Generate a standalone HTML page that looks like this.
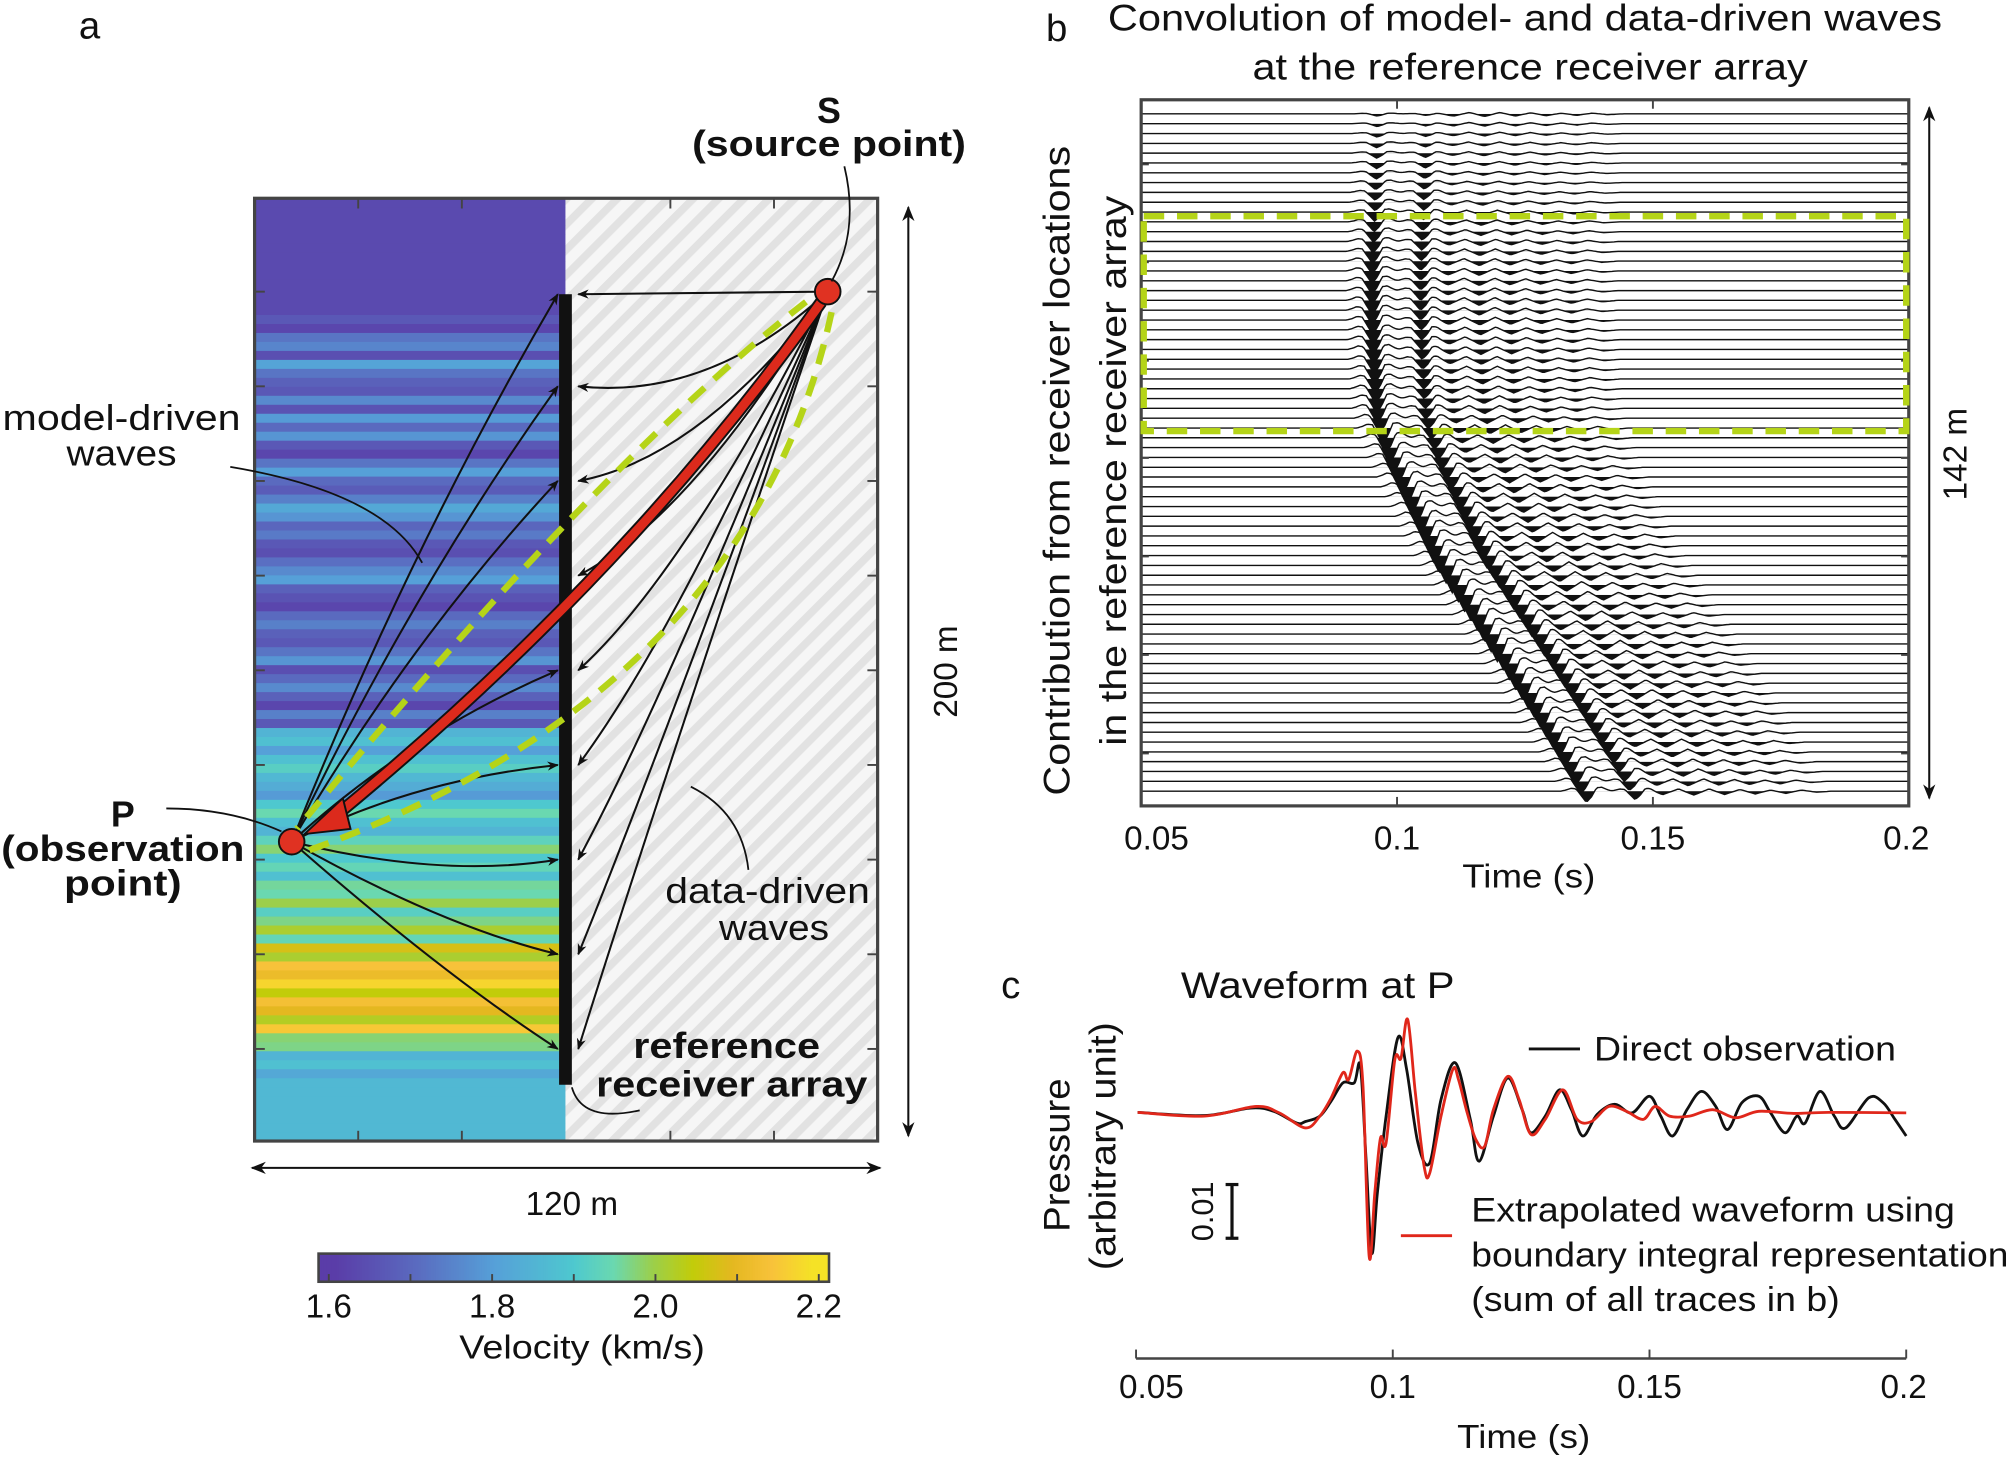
<!DOCTYPE html>
<html><head><meta charset="utf-8"><style>
html,body{margin:0;padding:0;background:#fff;}
svg{display:block;font-family:"Liberation Sans",Arial,sans-serif;}
</style></head><body>
<svg id="fig" width="2006" height="1457" viewBox="0 0 1568 1139" preserveAspectRatio="none" xmlns="http://www.w3.org/2000/svg">
<defs>
<pattern id="hatch" patternUnits="userSpaceOnUse" width="14" height="14" patternTransform="rotate(45)">
<rect width="14" height="14" fill="#f6f6f6"/><rect width="6" height="14" fill="#e2e2e2"/>
</pattern>
<marker id="ah" viewBox="0 0 10 10" refX="9" refY="5" markerWidth="9" markerHeight="9" orient="auto-start-reverse" markerUnits="userSpaceOnUse">
<path d="M0,1 L10,5 L0,9 L3,5 Z" fill="#111"/></marker>
<marker id="ah2" viewBox="0 0 10 10" refX="9" refY="5" markerWidth="12" markerHeight="12" orient="auto-start-reverse" markerUnits="userSpaceOnUse">
<path d="M0,1 L10,5 L0,9 L3,5 Z" fill="#111"/></marker>
</defs>
<g id="panelA"></g>
<g id="panelB"></g>
<g id="panelC"></g>
</svg>
<script>
// ---------- DATA ----------
const layerVelocities = [1.63,1.63,1.63,1.63,1.63,1.63,1.63,1.63,1.63,1.63,1.63,1.63,1.63,
 1.66,1.62,1.72,1.75,1.64,1.81,1.72,1.68,1.66,1.76,1.65,1.79,1.70,1.78,1.66,1.62,1.72,1.80,1.70,1.67,1.74,1.82,1.78,1.69,1.73,1.66,1.64,1.71,1.76,1.80,1.68,1.65,1.62,1.70,1.74,1.68,1.66,1.72,1.78,1.64,1.70,1.76,1.68,1.62,1.74,1.66,
 1.85,1.88,1.80,1.88,1.92,1.86,1.83,1.79,1.90,1.95,1.88,1.85,1.93,1.98,1.90,1.94,1.88,1.96,
 1.95,2.00,1.92,1.97,2.02,1.94,
 2.08,2.02,2.15,2.12,2.18,2.05,2.14,2.10,2.03,2.16,1.98,
 1.97,1.85,1.88,1.82,
 1.86,1.86,1.86,1.86,1.86,1.86,1.86];
const colorbarTicks = [1.6,1.8,2.0,2.2];
const colorbarMinorTicks = [1.6,1.7,1.8,1.9,2.0,2.1,2.2];
const arrivalTimes = [.0961,.0961,.0961,.0960,.0960,.0960,.0959,.0958,.0957,.0957,
 .0956,.0955,.0954,.0953,.0952,.0951,.0951,.0951,.0951,.0951,
 .0951,.0952,.0953,.0953,.0954,.0955,.0956,.0957,.0958,.0960,
 .0961,.0966,.0972,.0978,.0985,.0992,.1001,.1010,.1019,.1028,
 .1037,.1046,.1055,.1064,.1073,.1083,.1096,.1108,.1121,.1133,
 .1146,.1159,.1171,.1184,.1196,.1209,.1221,.1233,.1246,.1258,
 .1270,.1282,.1293,.1305,.1316,.1328,.1338,.1349,.1359,.1370];
const mainAmps = [.15,.2,.25,.3,.35,.4,.45,.5,.55,.6,.65,.7,.75,.8,.85,.9,.9,.95,.95,1,
 1,1,1,1,1,1,1,1,1,1, 1.05,1.05,1.1,1.1,1.1,1.15,1.15,1.15,1.2,1.2,
 1.2,1.2,1.2,1.25,1.25,1.25,1.25,1.25,1.25,1.25, 1.25,1.25,1.25,1.25,1.25,1.2,1.2,1.2,1.2,1.2,
 1.15,1.15,1.1,1.1,1.05,1,1,.95,.9,.8];
const secondAmps = [.1,.15,.2,.25,.3,.35,.4,.45,.5,.55,.55,.6,.6,.6,.65,.65,.65,.65,.7,.7,
 .7,.7,.7,.7,.7,.7,.7,.7,.7,.7, .75,.75,.8,.8,.85,.85,.9,.9,.9,.95,
 .95,.95,1,1,1,1,1,1,1,1, 1,1,1,1,1,1,.95,.95,.95,.9, .9,.9,.85,.85,.8,.8,.75,.7,.65,.6];
const secondDelay = 0.0095;
const mainWavelet = [0,-0.1,-0.25,-0.2,0.4,1.0,0.5,-0.3,-0.35,-0.15,0];
const codaShape = [0,0.3,-0.2,0.35,-0.2,0.3,-0.15,0.25,-0.1,0.2,-0.1,0.1,0];
const timeTicksB = [0.05,0.1,0.15,0.2];
const timeTickLabels = ["0.05","0.1","0.15","0.2"];
const obsTimes = [.0503,.0633,.0723,.0768,.0813,.0830,.0858,.0880,.0903,.0925,.0937,.0948,.0959,.0970,.0987,.1010,.1027,.1049,.1072,.1094,.1122,.1151,.1168,.1196,.1224,.1252,.1269,.1297,.1325,.1348,.1370,.1398,.1432,.1466,.1500,.1522,.1545,.1573,.1601,.1629,.1652,.1680,.1713,.1736,.1764,.1787,.1803,.1832,.1860,.1882,.1927,.1955,.1978,.2000];
const obsValues = [0.1,-0.5,0.9,0.3,-1.9,-1.6,-0.6,2.2,5.6,5.6,8.7,-8.7,-26.1,-14.9,-0.6,14.0,8.1,-5.6,-9.3,2.5,9.3,-1.2,-9.0,-0.6,6.5,0.6,-3.7,-0.6,4.3,0.6,-4.3,-0.3,1.6,0,3.1,-0.6,-4.3,0.6,4.0,1.2,-3.1,1.9,3.1,0,-3.7,-0.6,-1.9,4.0,-0.6,-2.8,2.8,1.9,-1.2,-4.3];
const extTimes = [.0503,.0633,.0734,.0779,.0830,.0858,.0880,.0903,.0914,.0931,.0942,.0954,.0965,.0976,.0987,.1004,.1016,.1029,.1044,.1061,.1072,.1094,.1117,.1128,.1145,.1162,.1179,.1196,.1224,.1246,.1269,.1297,.1331,.1359,.1387,.1421,.1455,.1488,.1511,.1539,.1578,.1623,.1668,.1713,.1781,.1849,.2000];
const extValues = [0.1,-0.6,1.2,0,-2.8,-0.6,2.8,7.5,6.2,11.5,5.0,-26.7,-14.9,-4.7,-5.6,9.9,10.2,17.4,3.7,-9.9,-11.2,-0.6,8.1,6.2,0,-5.0,-6.2,0.6,6.8,2.5,-4.0,-1.2,4.3,-1.2,-1.6,1.2,0.3,-1.2,1.2,-0.6,-0.6,0.6,-0.9,0.3,-0.1,0.1,0];

// ---------- HELPERS ----------
const NS="http://www.w3.org/2000/svg";
function mk(parent,tag,attrs,text){const e=document.createElementNS(NS,tag);for(const k in attrs)e.setAttribute(k,attrs[k]);if(text!==undefined)e.textContent=text;parent.appendChild(e);return e;}
function txt(parent,x,y,s,size,opts){opts=opts||{};const a={x:x,y:y,'font-size':size,'text-anchor':opts.anchor||'middle',fill:'#111'};
 if(opts.bold)a['font-weight']='bold'; if(opts.len){a.textLength=opts.len;a.lengthAdjust='spacingAndGlyphs';} if(opts.tr)a.transform=opts.tr;
 return mk(parent,'text',a,s);}
function smooth(pts){let d='M'+pts[0][0].toFixed(2)+','+pts[0][1].toFixed(2);
 for(let i=0;i<pts.length-1;i++){const p0=pts[i-1]||pts[i],p1=pts[i],p2=pts[i+1],p3=pts[i+2]||p2;
  const c1=[p1[0]+(p2[0]-p0[0])/6,p1[1]+(p2[1]-p0[1])/6],c2=[p2[0]-(p3[0]-p1[0])/6,p2[1]-(p3[1]-p1[1])/6];
  d+='C'+c1[0].toFixed(2)+','+c1[1].toFixed(2)+' '+c2[0].toFixed(2)+','+c2[1].toFixed(2)+' '+p2[0].toFixed(2)+','+p2[1].toFixed(2);}
 return d;}
const cmapStops=[[1.6,[90,61,168]],[1.7,[90,106,191]],[1.8,[86,160,216]],[1.9,[78,200,207]],[1.95,[106,216,176]],[2.0,[156,207,74]],[2.05,[194,204,10]],[2.1,[228,184,32]],[2.15,[248,194,58]],[2.2,[245,226,38]]];
function cmap(v){v=Math.max(1.6,Math.min(2.2,v));for(let i=0;i<cmapStops.length-1;i++){const a=cmapStops[i],b=cmapStops[i+1];if(v<=b[0]){const f=(v-a[0])/(b[0]-a[0]);return 'rgb('+a[1].map((c,j)=>Math.round(c+(b[1][j]-c)*f)).join(',')+')';}}return 'rgb(245,226,38)';}

// ---------- PANEL A ----------
const A=document.getElementById('panelA');
const ax0=199,ax1=686,ay0=155,ay1=892,amid=442;
txt(A,70,30,'a',30);
const layerH=(ay1-ay0)/layerVelocities.length;
const gl=mk(A,'g',{});


layerVelocities.forEach((v,i)=>{const r=mk(gl,'rect',{x:ax0,y:(ay0+i*layerH).toFixed(2),width:amid-ax0,height:(layerH+0.6).toFixed(2),fill:cmap(v)});
 
 });
const hz=mk(A,'rect',{x:amid,y:ay0,width:ax1-amid,height:ay1-ay0,fill:'url(#hatch)'});


mk(A,'rect',{x:ax0,y:ay0,width:ax1-ax0,height:ay1-ay0,fill:'none',stroke:'#444','stroke-width':2.5});
[228,302,376,450,524,598,672,746,820].forEach(y=>{mk(A,'line',{x1:ax0,y1:y,x2:ax0+8,y2:y,stroke:'#444','stroke-width':1.5});mk(A,'line',{x1:ax1,y1:y,x2:ax1-8,y2:y,stroke:'#444','stroke-width':1.5});});
[280,361,524,605].forEach(x=>{mk(A,'line',{x1:x,y1:ay0,x2:x,y2:ay0+8,stroke:'#444','stroke-width':1.5});mk(A,'line',{x1:x,y1:ay1,x2:x,y2:ay1-8,stroke:'#444','stroke-width':1.5});});
const P=[228,658],S=[647,228];
const recY=[230,302,376,450,524,598,672,746,820];
const gm=mk(A,'g',{});


[230,302,376,524,598,672,746,820].forEach((y,i)=>{const mx=(P[0]+436)/2, my=(P[1]+y)/2; const bend=(y<P[1])?-18:22;
 const p=mk(gm,'path',{d:`M${P[0]},${P[1]} Q${mx+bend*0.6},${my+bend} 436,${y}`,fill:'none',stroke:'#111','stroke-width':1.6,'marker-end':'url(#ah)'});
 
 });
const bar=mk(A,'rect',{x:437,y:230,width:10,height:618,fill:'#111'});


const gd=mk(A,'g',{});


recY.forEach((y,i)=>{const d= i===0?`M${S[0]},${S[1]} L452,${y}`:`M${S[0]},${S[1]} Q${560-i*6},${(S[1]+y)/2+40+i*8} 452,${y}`;
 const p=mk(gd,'path',{d:d,fill:'none',stroke:'#111','stroke-width':1.6,'marker-end':'url(#ah)'});
 
 });
const gg=mk(A,'g',{});


mk(gg,'path',{d:'M630,236 Q470,360 232,648',fill:'none',stroke:'#b5d418','stroke-width':5,'stroke-dasharray':'16,10'});
mk(gg,'path',{d:'M650,244 C610,430 480,580 238,666',fill:'none',stroke:'#b5d418','stroke-width':5,'stroke-dasharray':'16,10'});
mk(A,'path',{d:'M642,236 Q490,450 262,638',fill:'none',stroke:'#111','stroke-width':10});
const rb=mk(A,'path',{d:'M642,236 Q490,450 262,638',fill:'none',stroke:'#dc2a1c','stroke-width':7});


mk(A,'path',{d:'M238,652 L268,624 L274,648 Z',fill:'#dc2a1c',stroke:'#111','stroke-width':1.5});
const cs=mk(A,'circle',{cx:S[0],cy:S[1],r:10,fill:'#e03222',stroke:'#111','stroke-width':1.5});


const cp=mk(A,'circle',{cx:P[0],cy:P[1],r:10,fill:'#e03222',stroke:'#111','stroke-width':1.5});


txt(A,648,96,'S',28,{bold:1});
txt(A,648,122,'(source point)',28,{bold:1,len:214});
mk(A,'path',{d:'M660,130 Q672,180 650,220',fill:'none',stroke:'#111','stroke-width':1.4});
txt(A,95,336,'model-driven',28,{len:186});
txt(A,95,364,'waves',28,{len:86});
mk(A,'path',{d:'M180,365 Q300,385 330,440',fill:'none',stroke:'#111','stroke-width':1.4});
txt(A,96,646,'P',28,{bold:1});
txt(A,96,673,'(observation',28,{bold:1,len:190});
txt(A,96,700,'point)',28,{bold:1,len:92});
mk(A,'path',{d:'M130,632 Q180,632 220,650',fill:'none',stroke:'#111','stroke-width':1.4});
txt(A,600,706,'data-driven',28,{len:160});
txt(A,605,735,'waves',28,{len:86});
mk(A,'path',{d:'M585,680 Q580,635 540,615',fill:'none',stroke:'#111','stroke-width':1.4});
txt(A,568,827,'reference',28,{bold:1,len:146});
txt(A,572,857,'receiver array',28,{bold:1,len:212});
mk(A,'path',{d:'M447,850 Q455,878 500,868',fill:'none',stroke:'#111','stroke-width':1.4});
mk(A,'line',{x1:710,y1:162,x2:710,y2:888,stroke:'#111','stroke-width':1.6,'marker-end':'url(#ah2)','marker-start':'url(#ah2)'});
txt(A,0,0,'200 m',26,{tr:'translate(748,525) rotate(-90)'});
mk(A,'line',{x1:197,y1:913,x2:688,y2:913,stroke:'#111','stroke-width':1.6,'marker-end':'url(#ah2)','marker-start':'url(#ah2)'});
txt(A,447,950,'120 m',26);
const cbx0=249,cbx1=648,cby0=980,cby1=1002;
const cbg=mk(A,'g',{});


const vToCb=v=>cbx0+8+(v-1.6)/(0.6)*(cbx1-cbx0-16);
for(let i=0;i<200;i++){mk(cbg,'rect',{x:(cbx0+(cbx1-cbx0)*i/200).toFixed(2),y:cby0,width:((cbx1-cbx0)/200+0.6).toFixed(2),height:cby1-cby0,fill:cmap(1.58+0.64*i/199)});}
mk(cbg,'rect',{x:cbx0,y:cby0,width:cbx1-cbx0,height:cby1-cby0,fill:'none',stroke:'#444','stroke-width':2});
colorbarMinorTicks.forEach(v=>mk(cbg,'line',{x1:vToCb(v),y1:cby1,x2:vToCb(v),y2:cby1-6,stroke:'#444','stroke-width':1.5}));
colorbarTicks.forEach((v,i)=>{const t=txt(cbg,vToCb(v),1030,v.toFixed(1),26);
 
 });
txt(cbg,455,1062,'Velocity (km/s)',26,{len:192});

// ---------- PANEL B ----------
const B=document.getElementById('panelB');
const bx0=892,bx1=1492,by0=78,by1=630;
const tx=t=>bx0+(t-0.05)/0.15*(bx1-bx0);
txt(B,826,32,'b',30);
txt(B,1192,24,'Convolution of model- and data-driven waves',29,{len:652});
txt(B,1196,62,'at the reference receiver array',29,{len:434});
mk(B,'rect',{x:bx0,y:by0,width:bx1-bx0,height:by1-by0,fill:'#fff'});
const defs=document.querySelector('defs');
function interpArr(arr,step,x){const f=x/step;const i=Math.floor(f);if(i<0||i>=arr.length-1)return 0;const w=f-i;return arr[i]*(1-w)+arr[i+1]*w;}
const traceStep=(by1-by0)*0.0139, traceTop=by0+(by1-by0)*0.02;
const gt=mk(B,'g',{});


const ampScale=11;
arrivalTimes.forEach((ta,i)=>{
 const base=traceTop+i*traceStep;
 const pts=[];
 for(let t=0.05;t<=0.2001;t+=0.0004){
  let v=mainAmps[i]*interpArr(mainWavelet,0.001,t-ta+0.005);
  v+=secondAmps[i]*interpArr(mainWavelet,0.001,t-(ta+secondDelay)+0.005);
  v+=Math.max(mainAmps[i],0.5)*interpArr(codaShape,0.003,t-ta-0.012);
  pts.push([tx(t),base+v*ampScale]);}
 const cp=mk(defs,'clipPath',{id:'cl'+i});
 mk(cp,'rect',{x:bx0,y:base,width:bx1-bx0,height:40});
 let d='M'+pts.map(p=>p[0].toFixed(1)+','+p[1].toFixed(1)).join(' L');
 mk(gt,'path',{d:d+` L${bx1},${base} L${bx0},${base} Z`,fill:'#111','clip-path':`url(#cl${i})`});
 const line=mk(gt,'path',{d:d,fill:'none',stroke:'#111','stroke-width':1.1});
 
 
});
mk(B,'rect',{x:bx0,y:by0,width:bx1-bx0,height:by1-by0,fill:'none',stroke:'#444','stroke-width':2.5});
[128.5,205,282,358,435,512,589].forEach(y=>{mk(B,'line',{x1:bx0,y1:y,x2:bx0+6,y2:y,stroke:'#444','stroke-width':1.5});mk(B,'line',{x1:bx1,y1:y,x2:bx1-6,y2:y,stroke:'#444','stroke-width':1.5});});
timeTicksB.forEach((t,i)=>{mk(B,'line',{x1:tx(t),y1:by0,x2:tx(t),y2:by0+7,stroke:'#444','stroke-width':1.5});mk(B,'line',{x1:tx(t),y1:by1,x2:tx(t),y2:by1-7,stroke:'#444','stroke-width':1.5});
 const l=txt(B,i===0?tx(t)+12:(i===3?tx(t)-2:tx(t)),664,timeTickLabels[i],26);
 
 });
txt(B,1195,694,'Time (s)',26,{len:104});
const gbox=mk(B,'rect',{x:bx0+2,y:169,width:bx1-bx0-4,height:168,fill:'none',stroke:'#b5d418','stroke-width':5,'stroke-dasharray':'16,10'});


txt(B,0,0,'Contribution from receiver locations',29,{len:508,tr:'translate(836,368) rotate(-90)'});
txt(B,0,0,'in the reference receiver array',29,{len:430,tr:'translate(880,368) rotate(-90)'});
mk(B,'line',{x1:1508,y1:84,x2:1508,y2:624,stroke:'#111','stroke-width':1.6,'marker-end':'url(#ah2)','marker-start':'url(#ah2)'});
txt(B,0,0,'142 m',26,{tr:'translate(1537,355) rotate(-90)'});

// ---------- PANEL C ----------
const C=document.getElementById('panelC');
const cx0=888,cx1=1490,cbase=870,vs=4.2;
const ctx=t=>cx0+(t-0.05)/0.15*(cx1-cx0);
const cy=v=>cbase-v*vs;
txt(C,790,780,'c',30);
txt(C,1030,780,'Waveform at P',29,{len:214});
const obsLine=mk(C,'path',{d:smooth(obsTimes.map((t,i)=>[ctx(t),cy(obsValues[i])])),fill:'none',stroke:'#111','stroke-width':2.2});


const extLine=mk(C,'path',{d:smooth(extTimes.map((t,i)=>[ctx(t),cy(extValues[i])])),fill:'none',stroke:'#e0271b','stroke-width':2.2});


const lg1=mk(C,'line',{x1:1195,y1:820,x2:1235,y2:820,stroke:'#111','stroke-width':2.2});


txt(C,1246,829,'Direct observation',27,{anchor:'start',len:236});
const lg2=mk(C,'line',{x1:1095,y1:966,x2:1135,y2:966,stroke:'#e0271b','stroke-width':2.2});


txt(C,1150,955,'Extrapolated waveform using',27,{anchor:'start',len:378});
txt(C,1150,990,'boundary integral representation',27,{anchor:'start',len:420});
txt(C,1150,1025,'(sum of all traces in b)',27,{anchor:'start',len:288});
const sb=mk(C,'g',{});


mk(sb,'line',{x1:963,y1:926,x2:963,y2:968,stroke:'#111','stroke-width':2.5});
mk(sb,'line',{x1:958,y1:926,x2:968,y2:926,stroke:'#111','stroke-width':2.5});
mk(sb,'line',{x1:958,y1:968,x2:968,y2:968,stroke:'#111','stroke-width':2.5});
txt(sb,0,0,'0.01',24,{tr:'translate(948,947) rotate(-90)'});
txt(C,0,0,'Pressure',29,{len:120,tr:'translate(836,903) rotate(-90)'});
txt(C,0,0,'(arbitrary unit)',29,{len:194,tr:'translate(872,896) rotate(-90)'});
mk(C,'line',{x1:cx0,y1:1062,x2:cx1,y2:1062,stroke:'#444','stroke-width':2});
timeTicksB.forEach((t,i)=>{mk(C,'line',{x1:ctx(t),y1:1062,x2:ctx(t),y2:1055,stroke:'#444','stroke-width':1.5});
 const l=txt(C,i===0?ctx(t)+12:(i===3?ctx(t)-2:ctx(t)),1093,timeTickLabels[i],26);
 
 });
txt(C,1191,1132,'Time (s)',26,{len:104});
</script>
</body></html>
